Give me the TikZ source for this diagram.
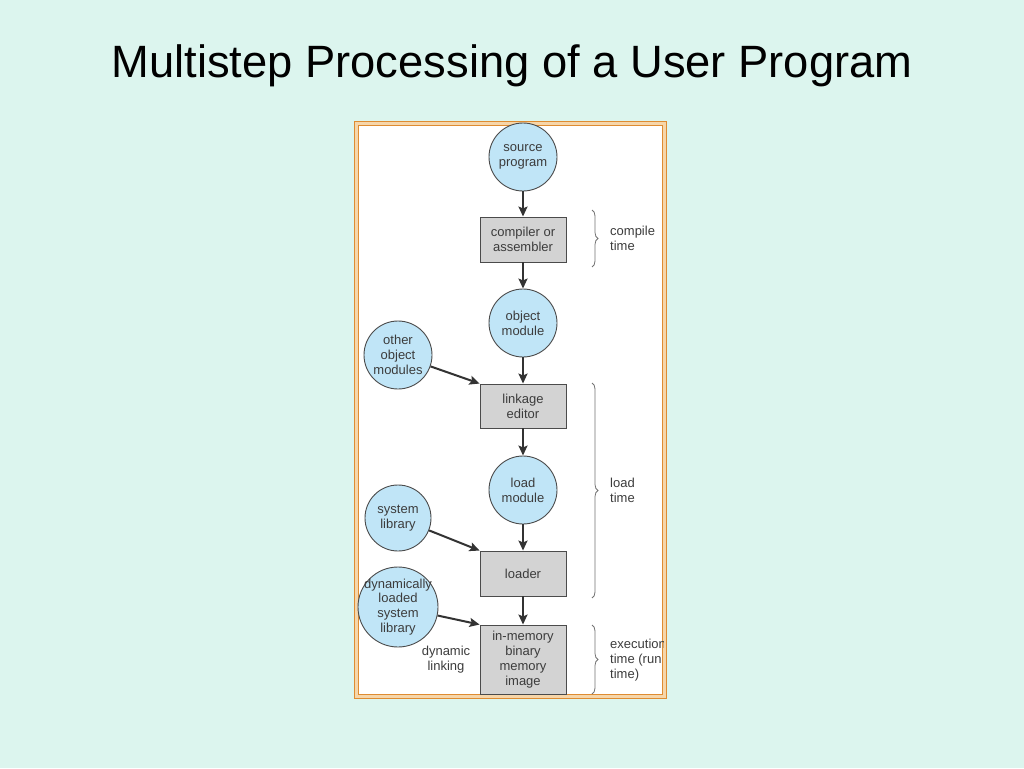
\documentclass[tikz,border=0pt]{standalone}
\usepackage{fontspec}
\setmainfont{Liberation Sans}
\usepackage{xcolor}
\usetikzlibrary{arrows.meta,decorations.pathreplacing}

\definecolor{slidebg}{RGB}{220,245,238}
\definecolor{framecol}{RGB}{222,140,50}
\definecolor{framemid}{RGB}{246,214,170}
\definecolor{diskblue}{RGB}{192,229,247}
\definecolor{boxgray}{RGB}{211,211,211}
\definecolor{linegray}{RGB}{75,75,75}
\definecolor{textgray}{RGB}{60,60,60}

\tikzset{
  prog/.style={circle,draw=linegray,fill=diskblue,line width=0.9pt,
    minimum size=68pt,inner sep=0pt,align=center,text=textgray,
    font=\fontsize{13}{14.8}\selectfont},
  stepbox/.style={rectangle,draw=linegray,fill=boxgray,line width=0.9pt,
    minimum width=86pt,inner sep=0pt,align=center,text=textgray,
    font=\fontsize{13}{14.8}\selectfont},
  lbl/.style={align=left,anchor=west,inner sep=0pt,text=textgray,
    font=\fontsize{13}{14.8}\selectfont},
  flow/.style={-{Stealth[length=10pt,width=9pt,inset=2pt]},line width=2pt,draw=black!80},
  timebrace/.style={decorate,decoration={brace,amplitude=6pt},draw=black!55,line width=0.8pt}
}

\begin{document}
\begin{tikzpicture}[x=1pt,y=-1pt]
  \fill[slidebg] (0,0) rectangle (1024,768);
  \useasboundingbox (0,0) rectangle (1024,768);

  \node[font=\fontsize{45.3}{50}\selectfont] (title) at (512,66) {Multistep Processing of a User Program};

  % frame
  \fill[framemid,draw=framecol,line width=1.5pt] (354.5,121.5) rectangle (666.5,698.5);
  \fill[white,draw=framecol,line width=1pt] (358.5,125.5) rectangle (662.5,694.5);

  \node[prog] (src) at (523,157) {source\\program};
  \node[stepbox,minimum height=45pt] (comp) at (523,239.5) {compiler or\\assembler};
  \node[prog] (obj) at (523,323) {object\\module};
  \node[prog] (other) at (398,355) {other\\object\\modules};
  \node[stepbox,minimum height=44pt] (link) at (523,406) {linkage\\editor};
  \node[prog] (lmod) at (523,490) {load\\module};
  \node[prog,minimum size=66pt] (syslib) at (398,518) {system\\library};
  \node[stepbox,minimum height=45pt] (loader) at (523,573.5) {loader};
  \node[prog,minimum size=80pt,inner sep=-5pt] (dynlib) at (398,607) {dynamically\\loaded\\system\\library};
  \node[stepbox,minimum height=69pt] (image) at (523,659.5) {in-memory\\binary\\memory\\image};
  \node[lbl,align=center,anchor=center] (dynlink) at (446,660) {dynamic\\linking};

  \draw[flow] (src) -- (comp); % src-comp
  \draw[flow] (comp) -- (obj); % comp-obj
  \draw[flow] (obj) -- (link); % obj-link
  \draw[flow] (other) -- (link.north west); % other-link
  \draw[flow] (link) -- (lmod); % link-lmod
  \draw[flow] (lmod) -- (loader); % lmod-loader
  \draw[flow] (syslib) -- (loader.north west); % syslib-loader
  \draw[flow] (loader) -- (image); % loader-image
  \draw[flow] (dynlib) -- (image.north west); % dynlib-image

  % time braces
  \draw[timebrace] (592,210) -- (592,267);
  \draw[timebrace] (592,383) -- (592,598);
  \draw[timebrace] (592,625) -- (592,694);
  \begin{scope}
    \clip (358.5,125.5) rectangle (663,694.5);
    \node[lbl] (ctime) at (610,238.5) {compile\\time};
    \node[lbl] (ltime) at (610,490.5) {load\\time};
    \node[lbl] (xtime) at (610,660) {execution\\time (run\\time)};
  \end{scope}
\end{tikzpicture}
\end{document}
